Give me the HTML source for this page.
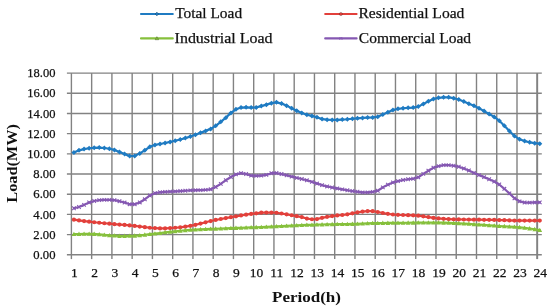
<!DOCTYPE html>
<html><head><meta charset="utf-8"><title>Load chart</title>
<style>html,body{margin:0;padding:0;background:#fff}svg{display:block}</style>
</head><body>
<svg width="550" height="308" viewBox="0 0 550 308">
<rect width="550" height="308" fill="#fff"/>
<g stroke="#828282" stroke-width="1.4" fill="none">
<path d="M66.9 254.80H541.8"/>
<path d="M66.9 234.61H541.8"/>
<path d="M66.9 214.42H541.8"/>
<path d="M66.9 194.23H541.8"/>
<path d="M66.9 174.04H541.8"/>
<path d="M66.9 153.86H541.8"/>
<path d="M66.9 133.67H541.8"/>
<path d="M66.9 113.48H541.8"/>
<path d="M66.9 93.29H541.8"/>
<path d="M66.9 73.10H541.8"/>
<path d="M71.40 73.10V259.1"/>
<path d="M91.65 73.10V259.1"/>
<path d="M111.91 73.10V259.1"/>
<path d="M132.16 73.10V259.1"/>
<path d="M152.42 73.10V259.1"/>
<path d="M172.67 73.10V259.1"/>
<path d="M192.93 73.10V259.1"/>
<path d="M213.18 73.10V259.1"/>
<path d="M233.43 73.10V259.1"/>
<path d="M253.69 73.10V259.1"/>
<path d="M273.94 73.10V259.1"/>
<path d="M294.20 73.10V259.1"/>
<path d="M314.45 73.10V259.1"/>
<path d="M334.71 73.10V259.1"/>
<path d="M354.96 73.10V259.1"/>
<path d="M375.22 73.10V259.1"/>
<path d="M395.47 73.10V259.1"/>
<path d="M415.72 73.10V259.1"/>
<path d="M435.98 73.10V259.1"/>
<path d="M456.23 73.10V259.1"/>
<path d="M476.49 73.10V259.1"/>
<path d="M496.74 73.10V259.1"/>
<path d="M517.00 73.10V259.1"/>
<path d="M537.25 73.10V259.1"/>
</g>
<path d="M537.25 73.10V259.1" stroke="#828282" stroke-width="1.8"/>
<polyline fill="none" stroke="#1f7bc2" stroke-width="2.2" stroke-linejoin="round" stroke-linecap="round" points="73.93,152.44 79.00,150.34 84.06,149.07 89.12,148.25 94.19,147.82 99.25,147.60 104.31,148.01 109.38,148.72 114.44,149.92 119.50,151.95 124.57,154.02 129.63,156.12 134.69,156.02 139.76,153.39 144.82,150.34 149.89,146.75 154.95,144.93 160.01,144.03 165.08,143.03 170.14,141.92 175.20,140.74 180.27,139.49 185.33,138.09 190.39,136.53 195.46,134.79 200.52,132.85 205.59,130.88 210.65,128.88 215.71,125.84 220.78,121.81 225.84,117.66 230.90,112.91 235.97,109.31 241.03,107.54 246.09,107.28 251.16,107.56 256.22,107.40 261.28,106.11 266.35,104.66 271.41,103.18 276.48,102.37 281.54,103.59 286.60,105.63 291.67,108.18 296.73,110.67 301.79,113.04 306.86,114.70 311.92,115.88 316.98,117.33 322.05,119.09 327.11,119.70 332.17,119.91 337.24,119.89 342.30,119.60 347.37,119.24 352.43,118.76 357.49,118.30 362.56,117.88 367.62,117.61 372.68,117.45 377.75,116.80 382.81,114.61 387.87,112.34 392.94,109.98 398.00,108.83 403.06,108.25 408.13,107.85 413.19,107.56 418.26,106.62 423.32,103.90 428.38,101.34 433.45,98.93 438.51,97.85 443.57,97.31 448.64,97.36 453.70,98.20 458.76,99.47 463.83,101.59 468.89,103.69 473.96,105.76 479.02,108.21 484.08,111.09 489.15,113.99 494.21,116.91 499.27,120.74 504.34,125.80 509.40,130.91 514.46,136.09 519.53,139.17 524.59,141.07 529.65,142.30 534.72,143.16 539.78,143.66"/>
<path d="M73.93 149.94L76.43 152.44L73.93 154.94L71.43 152.44ZM79.00 147.84L81.50 150.34L79.00 152.84L76.50 150.34ZM84.06 146.57L86.56 149.07L84.06 151.57L81.56 149.07ZM89.12 145.75L91.62 148.25L89.12 150.75L86.62 148.25ZM94.19 145.32L96.69 147.82L94.19 150.32L91.69 147.82ZM99.25 145.10L101.75 147.60L99.25 150.10L96.75 147.60ZM104.31 145.51L106.81 148.01L104.31 150.51L101.81 148.01ZM109.38 146.22L111.88 148.72L109.38 151.22L106.88 148.72ZM114.44 147.42L116.94 149.92L114.44 152.42L111.94 149.92ZM119.50 149.45L122.00 151.95L119.50 154.45L117.00 151.95ZM124.57 151.52L127.07 154.02L124.57 156.52L122.07 154.02ZM129.63 153.62L132.13 156.12L129.63 158.62L127.13 156.12ZM134.69 153.52L137.19 156.02L134.69 158.52L132.19 156.02ZM139.76 150.89L142.26 153.39L139.76 155.89L137.26 153.39ZM144.82 147.84L147.32 150.34L144.82 152.84L142.32 150.34ZM149.89 144.25L152.39 146.75L149.89 149.25L147.39 146.75ZM154.95 142.43L157.45 144.93L154.95 147.43L152.45 144.93ZM160.01 141.53L162.51 144.03L160.01 146.53L157.51 144.03ZM165.08 140.53L167.58 143.03L165.08 145.53L162.58 143.03ZM170.14 139.42L172.64 141.92L170.14 144.42L167.64 141.92ZM175.20 138.24L177.70 140.74L175.20 143.24L172.70 140.74ZM180.27 136.99L182.77 139.49L180.27 141.99L177.77 139.49ZM185.33 135.59L187.83 138.09L185.33 140.59L182.83 138.09ZM190.39 134.03L192.89 136.53L190.39 139.03L187.89 136.53ZM195.46 132.29L197.96 134.79L195.46 137.29L192.96 134.79ZM200.52 130.35L203.02 132.85L200.52 135.35L198.02 132.85ZM205.59 128.38L208.09 130.88L205.59 133.38L203.09 130.88ZM210.65 126.38L213.15 128.88L210.65 131.38L208.15 128.88ZM215.71 123.34L218.21 125.84L215.71 128.34L213.21 125.84ZM220.78 119.31L223.28 121.81L220.78 124.31L218.28 121.81ZM225.84 115.16L228.34 117.66L225.84 120.16L223.34 117.66ZM230.90 110.41L233.40 112.91L230.90 115.41L228.40 112.91ZM235.97 106.81L238.47 109.31L235.97 111.81L233.47 109.31ZM241.03 105.04L243.53 107.54L241.03 110.04L238.53 107.54ZM246.09 104.78L248.59 107.28L246.09 109.78L243.59 107.28ZM251.16 105.06L253.66 107.56L251.16 110.06L248.66 107.56ZM256.22 104.90L258.72 107.40L256.22 109.90L253.72 107.40ZM261.28 103.61L263.78 106.11L261.28 108.61L258.78 106.11ZM266.35 102.16L268.85 104.66L266.35 107.16L263.85 104.66ZM271.41 100.68L273.91 103.18L271.41 105.68L268.91 103.18ZM276.48 99.87L278.98 102.37L276.48 104.87L273.98 102.37ZM281.54 101.09L284.04 103.59L281.54 106.09L279.04 103.59ZM286.60 103.13L289.10 105.63L286.60 108.13L284.10 105.63ZM291.67 105.68L294.17 108.18L291.67 110.68L289.17 108.18ZM296.73 108.17L299.23 110.67L296.73 113.17L294.23 110.67ZM301.79 110.54L304.29 113.04L301.79 115.54L299.29 113.04ZM306.86 112.20L309.36 114.70L306.86 117.20L304.36 114.70ZM311.92 113.38L314.42 115.88L311.92 118.38L309.42 115.88ZM316.98 114.83L319.48 117.33L316.98 119.83L314.48 117.33ZM322.05 116.59L324.55 119.09L322.05 121.59L319.55 119.09ZM327.11 117.20L329.61 119.70L327.11 122.20L324.61 119.70ZM332.17 117.41L334.67 119.91L332.17 122.41L329.67 119.91ZM337.24 117.39L339.74 119.89L337.24 122.39L334.74 119.89ZM342.30 117.10L344.80 119.60L342.30 122.10L339.80 119.60ZM347.37 116.74L349.87 119.24L347.37 121.74L344.87 119.24ZM352.43 116.26L354.93 118.76L352.43 121.26L349.93 118.76ZM357.49 115.80L359.99 118.30L357.49 120.80L354.99 118.30ZM362.56 115.38L365.06 117.88L362.56 120.38L360.06 117.88ZM367.62 115.11L370.12 117.61L367.62 120.11L365.12 117.61ZM372.68 114.95L375.18 117.45L372.68 119.95L370.18 117.45ZM377.75 114.30L380.25 116.80L377.75 119.30L375.25 116.80ZM382.81 112.11L385.31 114.61L382.81 117.11L380.31 114.61ZM387.87 109.84L390.37 112.34L387.87 114.84L385.37 112.34ZM392.94 107.48L395.44 109.98L392.94 112.48L390.44 109.98ZM398.00 106.33L400.50 108.83L398.00 111.33L395.50 108.83ZM403.06 105.75L405.56 108.25L403.06 110.75L400.56 108.25ZM408.13 105.35L410.63 107.85L408.13 110.35L405.63 107.85ZM413.19 105.06L415.69 107.56L413.19 110.06L410.69 107.56ZM418.26 104.12L420.76 106.62L418.26 109.12L415.76 106.62ZM423.32 101.40L425.82 103.90L423.32 106.40L420.82 103.90ZM428.38 98.84L430.88 101.34L428.38 103.84L425.88 101.34ZM433.45 96.43L435.95 98.93L433.45 101.43L430.95 98.93ZM438.51 95.35L441.01 97.85L438.51 100.35L436.01 97.85ZM443.57 94.81L446.07 97.31L443.57 99.81L441.07 97.31ZM448.64 94.86L451.14 97.36L448.64 99.86L446.14 97.36ZM453.70 95.70L456.20 98.20L453.70 100.70L451.20 98.20ZM458.76 96.97L461.26 99.47L458.76 101.97L456.26 99.47ZM463.83 99.09L466.33 101.59L463.83 104.09L461.33 101.59ZM468.89 101.19L471.39 103.69L468.89 106.19L466.39 103.69ZM473.96 103.26L476.46 105.76L473.96 108.26L471.46 105.76ZM479.02 105.71L481.52 108.21L479.02 110.71L476.52 108.21ZM484.08 108.59L486.58 111.09L484.08 113.59L481.58 111.09ZM489.15 111.49L491.65 113.99L489.15 116.49L486.65 113.99ZM494.21 114.41L496.71 116.91L494.21 119.41L491.71 116.91ZM499.27 118.24L501.77 120.74L499.27 123.24L496.77 120.74ZM504.34 123.30L506.84 125.80L504.34 128.30L501.84 125.80ZM509.40 128.41L511.90 130.91L509.40 133.41L506.90 130.91ZM514.46 133.59L516.96 136.09L514.46 138.59L511.96 136.09ZM519.53 136.67L522.03 139.17L519.53 141.67L517.03 139.17ZM524.59 138.57L527.09 141.07L524.59 143.57L522.09 141.07ZM529.65 139.80L532.15 142.30L529.65 144.80L527.15 142.30ZM534.72 140.66L537.22 143.16L534.72 145.66L532.22 143.16ZM539.78 141.16L542.28 143.66L539.78 146.16L537.28 143.66Z" fill="#1f7bc2"/>
<polyline fill="none" stroke="#e2403b" stroke-width="2.2" stroke-linejoin="round" stroke-linecap="round" points="73.93,219.67 79.00,220.40 84.06,221.08 89.12,221.71 94.19,222.26 99.25,222.77 104.31,223.24 109.38,223.69 114.44,224.13 119.50,224.55 124.57,224.95 129.63,225.39 134.69,225.90 139.76,226.53 144.82,227.19 149.89,227.75 154.95,228.12 160.01,228.41 165.08,228.41 170.14,228.12 175.20,227.77 180.27,227.32 185.33,226.70 190.39,225.81 195.46,224.80 200.52,223.58 205.59,222.28 210.65,221.04 215.71,219.96 220.78,218.98 225.84,218.05 230.90,217.17 235.97,216.32 241.03,215.47 246.09,214.66 251.16,213.93 256.22,213.29 261.28,212.71 266.35,212.61 271.41,212.61 276.48,212.74 281.54,213.50 286.60,214.33 291.67,215.26 296.73,216.18 301.79,217.10 306.86,218.54 311.92,219.24 316.98,219.03 322.05,217.81 327.11,216.83 332.17,216.06 337.24,215.47 342.30,215.01 347.37,214.32 352.43,213.28 357.49,212.37 362.56,211.57 367.62,211.09 372.68,211.20 377.75,212.01 382.81,212.98 387.87,213.80 392.94,214.51 398.00,214.85 403.06,215.02 408.13,215.14 413.19,215.31 418.26,215.64 423.32,216.29 428.38,217.05 433.45,217.95 438.51,218.47 443.57,218.82 448.64,219.10 453.70,219.30 458.76,219.42 463.83,219.51 468.89,219.57 473.96,219.64 479.02,219.71 484.08,219.78 489.15,219.85 494.21,219.93 499.27,220.04 504.34,220.22 509.40,220.42 514.46,220.56 519.53,220.58 524.59,220.58 529.65,220.58 534.72,220.58 539.78,220.58"/>
<path d="M71.83 219.67a2.1 2.1 0 1 0 4.2 0a2.1 2.1 0 1 0 -4.2 0ZM76.90 220.40a2.1 2.1 0 1 0 4.2 0a2.1 2.1 0 1 0 -4.2 0ZM81.96 221.08a2.1 2.1 0 1 0 4.2 0a2.1 2.1 0 1 0 -4.2 0ZM87.02 221.71a2.1 2.1 0 1 0 4.2 0a2.1 2.1 0 1 0 -4.2 0ZM92.09 222.26a2.1 2.1 0 1 0 4.2 0a2.1 2.1 0 1 0 -4.2 0ZM97.15 222.77a2.1 2.1 0 1 0 4.2 0a2.1 2.1 0 1 0 -4.2 0ZM102.21 223.24a2.1 2.1 0 1 0 4.2 0a2.1 2.1 0 1 0 -4.2 0ZM107.28 223.69a2.1 2.1 0 1 0 4.2 0a2.1 2.1 0 1 0 -4.2 0ZM112.34 224.13a2.1 2.1 0 1 0 4.2 0a2.1 2.1 0 1 0 -4.2 0ZM117.40 224.55a2.1 2.1 0 1 0 4.2 0a2.1 2.1 0 1 0 -4.2 0ZM122.47 224.95a2.1 2.1 0 1 0 4.2 0a2.1 2.1 0 1 0 -4.2 0ZM127.53 225.39a2.1 2.1 0 1 0 4.2 0a2.1 2.1 0 1 0 -4.2 0ZM132.59 225.90a2.1 2.1 0 1 0 4.2 0a2.1 2.1 0 1 0 -4.2 0ZM137.66 226.53a2.1 2.1 0 1 0 4.2 0a2.1 2.1 0 1 0 -4.2 0ZM142.72 227.19a2.1 2.1 0 1 0 4.2 0a2.1 2.1 0 1 0 -4.2 0ZM147.79 227.75a2.1 2.1 0 1 0 4.2 0a2.1 2.1 0 1 0 -4.2 0ZM152.85 228.12a2.1 2.1 0 1 0 4.2 0a2.1 2.1 0 1 0 -4.2 0ZM157.91 228.41a2.1 2.1 0 1 0 4.2 0a2.1 2.1 0 1 0 -4.2 0ZM162.98 228.41a2.1 2.1 0 1 0 4.2 0a2.1 2.1 0 1 0 -4.2 0ZM168.04 228.12a2.1 2.1 0 1 0 4.2 0a2.1 2.1 0 1 0 -4.2 0ZM173.10 227.77a2.1 2.1 0 1 0 4.2 0a2.1 2.1 0 1 0 -4.2 0ZM178.17 227.32a2.1 2.1 0 1 0 4.2 0a2.1 2.1 0 1 0 -4.2 0ZM183.23 226.70a2.1 2.1 0 1 0 4.2 0a2.1 2.1 0 1 0 -4.2 0ZM188.29 225.81a2.1 2.1 0 1 0 4.2 0a2.1 2.1 0 1 0 -4.2 0ZM193.36 224.80a2.1 2.1 0 1 0 4.2 0a2.1 2.1 0 1 0 -4.2 0ZM198.42 223.58a2.1 2.1 0 1 0 4.2 0a2.1 2.1 0 1 0 -4.2 0ZM203.49 222.28a2.1 2.1 0 1 0 4.2 0a2.1 2.1 0 1 0 -4.2 0ZM208.55 221.04a2.1 2.1 0 1 0 4.2 0a2.1 2.1 0 1 0 -4.2 0ZM213.61 219.96a2.1 2.1 0 1 0 4.2 0a2.1 2.1 0 1 0 -4.2 0ZM218.68 218.98a2.1 2.1 0 1 0 4.2 0a2.1 2.1 0 1 0 -4.2 0ZM223.74 218.05a2.1 2.1 0 1 0 4.2 0a2.1 2.1 0 1 0 -4.2 0ZM228.80 217.17a2.1 2.1 0 1 0 4.2 0a2.1 2.1 0 1 0 -4.2 0ZM233.87 216.32a2.1 2.1 0 1 0 4.2 0a2.1 2.1 0 1 0 -4.2 0ZM238.93 215.47a2.1 2.1 0 1 0 4.2 0a2.1 2.1 0 1 0 -4.2 0ZM243.99 214.66a2.1 2.1 0 1 0 4.2 0a2.1 2.1 0 1 0 -4.2 0ZM249.06 213.93a2.1 2.1 0 1 0 4.2 0a2.1 2.1 0 1 0 -4.2 0ZM254.12 213.29a2.1 2.1 0 1 0 4.2 0a2.1 2.1 0 1 0 -4.2 0ZM259.18 212.71a2.1 2.1 0 1 0 4.2 0a2.1 2.1 0 1 0 -4.2 0ZM264.25 212.61a2.1 2.1 0 1 0 4.2 0a2.1 2.1 0 1 0 -4.2 0ZM269.31 212.61a2.1 2.1 0 1 0 4.2 0a2.1 2.1 0 1 0 -4.2 0ZM274.38 212.74a2.1 2.1 0 1 0 4.2 0a2.1 2.1 0 1 0 -4.2 0ZM279.44 213.50a2.1 2.1 0 1 0 4.2 0a2.1 2.1 0 1 0 -4.2 0ZM284.50 214.33a2.1 2.1 0 1 0 4.2 0a2.1 2.1 0 1 0 -4.2 0ZM289.57 215.26a2.1 2.1 0 1 0 4.2 0a2.1 2.1 0 1 0 -4.2 0ZM294.63 216.18a2.1 2.1 0 1 0 4.2 0a2.1 2.1 0 1 0 -4.2 0ZM299.69 217.10a2.1 2.1 0 1 0 4.2 0a2.1 2.1 0 1 0 -4.2 0ZM304.76 218.54a2.1 2.1 0 1 0 4.2 0a2.1 2.1 0 1 0 -4.2 0ZM309.82 219.24a2.1 2.1 0 1 0 4.2 0a2.1 2.1 0 1 0 -4.2 0ZM314.88 219.03a2.1 2.1 0 1 0 4.2 0a2.1 2.1 0 1 0 -4.2 0ZM319.95 217.81a2.1 2.1 0 1 0 4.2 0a2.1 2.1 0 1 0 -4.2 0ZM325.01 216.83a2.1 2.1 0 1 0 4.2 0a2.1 2.1 0 1 0 -4.2 0ZM330.07 216.06a2.1 2.1 0 1 0 4.2 0a2.1 2.1 0 1 0 -4.2 0ZM335.14 215.47a2.1 2.1 0 1 0 4.2 0a2.1 2.1 0 1 0 -4.2 0ZM340.20 215.01a2.1 2.1 0 1 0 4.2 0a2.1 2.1 0 1 0 -4.2 0ZM345.27 214.32a2.1 2.1 0 1 0 4.2 0a2.1 2.1 0 1 0 -4.2 0ZM350.33 213.28a2.1 2.1 0 1 0 4.2 0a2.1 2.1 0 1 0 -4.2 0ZM355.39 212.37a2.1 2.1 0 1 0 4.2 0a2.1 2.1 0 1 0 -4.2 0ZM360.46 211.57a2.1 2.1 0 1 0 4.2 0a2.1 2.1 0 1 0 -4.2 0ZM365.52 211.09a2.1 2.1 0 1 0 4.2 0a2.1 2.1 0 1 0 -4.2 0ZM370.58 211.20a2.1 2.1 0 1 0 4.2 0a2.1 2.1 0 1 0 -4.2 0ZM375.65 212.01a2.1 2.1 0 1 0 4.2 0a2.1 2.1 0 1 0 -4.2 0ZM380.71 212.98a2.1 2.1 0 1 0 4.2 0a2.1 2.1 0 1 0 -4.2 0ZM385.77 213.80a2.1 2.1 0 1 0 4.2 0a2.1 2.1 0 1 0 -4.2 0ZM390.84 214.51a2.1 2.1 0 1 0 4.2 0a2.1 2.1 0 1 0 -4.2 0ZM395.90 214.85a2.1 2.1 0 1 0 4.2 0a2.1 2.1 0 1 0 -4.2 0ZM400.96 215.02a2.1 2.1 0 1 0 4.2 0a2.1 2.1 0 1 0 -4.2 0ZM406.03 215.14a2.1 2.1 0 1 0 4.2 0a2.1 2.1 0 1 0 -4.2 0ZM411.09 215.31a2.1 2.1 0 1 0 4.2 0a2.1 2.1 0 1 0 -4.2 0ZM416.16 215.64a2.1 2.1 0 1 0 4.2 0a2.1 2.1 0 1 0 -4.2 0ZM421.22 216.29a2.1 2.1 0 1 0 4.2 0a2.1 2.1 0 1 0 -4.2 0ZM426.28 217.05a2.1 2.1 0 1 0 4.2 0a2.1 2.1 0 1 0 -4.2 0ZM431.35 217.95a2.1 2.1 0 1 0 4.2 0a2.1 2.1 0 1 0 -4.2 0ZM436.41 218.47a2.1 2.1 0 1 0 4.2 0a2.1 2.1 0 1 0 -4.2 0ZM441.47 218.82a2.1 2.1 0 1 0 4.2 0a2.1 2.1 0 1 0 -4.2 0ZM446.54 219.10a2.1 2.1 0 1 0 4.2 0a2.1 2.1 0 1 0 -4.2 0ZM451.60 219.30a2.1 2.1 0 1 0 4.2 0a2.1 2.1 0 1 0 -4.2 0ZM456.66 219.42a2.1 2.1 0 1 0 4.2 0a2.1 2.1 0 1 0 -4.2 0ZM461.73 219.51a2.1 2.1 0 1 0 4.2 0a2.1 2.1 0 1 0 -4.2 0ZM466.79 219.57a2.1 2.1 0 1 0 4.2 0a2.1 2.1 0 1 0 -4.2 0ZM471.86 219.64a2.1 2.1 0 1 0 4.2 0a2.1 2.1 0 1 0 -4.2 0ZM476.92 219.71a2.1 2.1 0 1 0 4.2 0a2.1 2.1 0 1 0 -4.2 0ZM481.98 219.78a2.1 2.1 0 1 0 4.2 0a2.1 2.1 0 1 0 -4.2 0ZM487.05 219.85a2.1 2.1 0 1 0 4.2 0a2.1 2.1 0 1 0 -4.2 0ZM492.11 219.93a2.1 2.1 0 1 0 4.2 0a2.1 2.1 0 1 0 -4.2 0ZM497.17 220.04a2.1 2.1 0 1 0 4.2 0a2.1 2.1 0 1 0 -4.2 0ZM502.24 220.22a2.1 2.1 0 1 0 4.2 0a2.1 2.1 0 1 0 -4.2 0ZM507.30 220.42a2.1 2.1 0 1 0 4.2 0a2.1 2.1 0 1 0 -4.2 0ZM512.36 220.56a2.1 2.1 0 1 0 4.2 0a2.1 2.1 0 1 0 -4.2 0ZM517.43 220.58a2.1 2.1 0 1 0 4.2 0a2.1 2.1 0 1 0 -4.2 0ZM522.49 220.58a2.1 2.1 0 1 0 4.2 0a2.1 2.1 0 1 0 -4.2 0ZM527.55 220.58a2.1 2.1 0 1 0 4.2 0a2.1 2.1 0 1 0 -4.2 0ZM532.62 220.58a2.1 2.1 0 1 0 4.2 0a2.1 2.1 0 1 0 -4.2 0ZM537.68 220.58a2.1 2.1 0 1 0 4.2 0a2.1 2.1 0 1 0 -4.2 0Z" fill="#e2403b"/>
<polyline fill="none" stroke="#86c03c" stroke-width="2.2" stroke-linejoin="round" stroke-linecap="round" points="73.93,234.11 79.00,233.98 84.06,233.92 89.12,233.91 94.19,233.96 99.25,234.31 104.31,234.83 109.38,235.33 114.44,235.68 119.50,235.97 124.57,236.01 129.63,235.90 134.69,235.71 139.76,235.31 144.82,234.76 149.89,234.18 154.95,233.63 160.01,233.05 165.08,232.44 170.14,231.85 175.20,231.31 180.27,230.77 185.33,230.25 190.39,229.83 195.46,229.53 200.52,229.31 205.59,229.13 210.65,228.95 215.71,228.76 220.78,228.55 225.84,228.34 230.90,228.15 235.97,227.96 241.03,227.78 246.09,227.61 251.16,227.44 256.22,227.25 261.28,227.06 266.35,226.86 271.41,226.65 276.48,226.41 281.54,226.12 286.60,225.82 291.67,225.54 296.73,225.32 301.79,225.13 306.86,224.95 311.92,224.79 316.98,224.65 322.05,224.51 327.11,224.38 332.17,224.26 337.24,224.17 342.30,224.10 347.37,224.04 352.43,223.96 357.49,223.84 362.56,223.62 367.62,223.37 372.68,223.16 377.75,223.07 382.81,223.01 387.87,222.97 392.94,222.93 398.00,222.88 403.06,222.82 408.13,222.77 413.19,222.72 418.26,222.68 423.32,222.65 428.38,222.62 433.45,222.60 438.51,222.61 443.57,222.72 448.64,222.89 453.70,223.10 458.76,223.32 463.83,223.59 468.89,223.91 473.96,224.25 479.02,224.58 484.08,224.94 489.15,225.31 494.21,225.66 499.27,225.98 504.34,226.26 509.40,226.53 514.46,226.85 519.53,227.27 524.59,227.83 529.65,228.48 534.72,229.24 539.78,230.17"/>
<path d="M73.93 231.71L76.33 236.03L71.53 236.03ZM79.00 231.58L81.40 235.90L76.60 235.90ZM84.06 231.52L86.46 235.84L81.66 235.84ZM89.12 231.51L91.52 235.83L86.72 235.83ZM94.19 231.56L96.59 235.88L91.79 235.88ZM99.25 231.91L101.65 236.23L96.85 236.23ZM104.31 232.43L106.71 236.75L101.91 236.75ZM109.38 232.93L111.78 237.25L106.98 237.25ZM114.44 233.28L116.84 237.60L112.04 237.60ZM119.50 233.57L121.90 237.89L117.10 237.89ZM124.57 233.61L126.97 237.93L122.17 237.93ZM129.63 233.50L132.03 237.82L127.23 237.82ZM134.69 233.31L137.09 237.63L132.29 237.63ZM139.76 232.91L142.16 237.23L137.36 237.23ZM144.82 232.36L147.22 236.68L142.42 236.68ZM149.89 231.78L152.29 236.10L147.49 236.10ZM154.95 231.23L157.35 235.55L152.55 235.55ZM160.01 230.65L162.41 234.97L157.61 234.97ZM165.08 230.04L167.48 234.36L162.68 234.36ZM170.14 229.45L172.54 233.77L167.74 233.77ZM175.20 228.91L177.60 233.23L172.80 233.23ZM180.27 228.37L182.67 232.69L177.87 232.69ZM185.33 227.85L187.73 232.17L182.93 232.17ZM190.39 227.43L192.79 231.75L187.99 231.75ZM195.46 227.13L197.86 231.45L193.06 231.45ZM200.52 226.91L202.92 231.23L198.12 231.23ZM205.59 226.73L207.99 231.05L203.19 231.05ZM210.65 226.55L213.05 230.87L208.25 230.87ZM215.71 226.36L218.11 230.68L213.31 230.68ZM220.78 226.15L223.18 230.47L218.38 230.47ZM225.84 225.94L228.24 230.26L223.44 230.26ZM230.90 225.75L233.30 230.07L228.50 230.07ZM235.97 225.56L238.37 229.88L233.57 229.88ZM241.03 225.38L243.43 229.70L238.63 229.70ZM246.09 225.21L248.49 229.53L243.69 229.53ZM251.16 225.04L253.56 229.36L248.76 229.36ZM256.22 224.85L258.62 229.17L253.82 229.17ZM261.28 224.66L263.68 228.98L258.88 228.98ZM266.35 224.46L268.75 228.78L263.95 228.78ZM271.41 224.25L273.81 228.57L269.01 228.57ZM276.48 224.01L278.88 228.33L274.08 228.33ZM281.54 223.72L283.94 228.04L279.14 228.04ZM286.60 223.42L289.00 227.74L284.20 227.74ZM291.67 223.14L294.07 227.46L289.27 227.46ZM296.73 222.92L299.13 227.24L294.33 227.24ZM301.79 222.73L304.19 227.05L299.39 227.05ZM306.86 222.55L309.26 226.87L304.46 226.87ZM311.92 222.39L314.32 226.71L309.52 226.71ZM316.98 222.25L319.38 226.57L314.58 226.57ZM322.05 222.11L324.45 226.43L319.65 226.43ZM327.11 221.98L329.51 226.30L324.71 226.30ZM332.17 221.86L334.57 226.18L329.77 226.18ZM337.24 221.77L339.64 226.09L334.84 226.09ZM342.30 221.70L344.70 226.02L339.90 226.02ZM347.37 221.64L349.77 225.96L344.97 225.96ZM352.43 221.56L354.83 225.88L350.03 225.88ZM357.49 221.44L359.89 225.76L355.09 225.76ZM362.56 221.22L364.96 225.54L360.16 225.54ZM367.62 220.97L370.02 225.29L365.22 225.29ZM372.68 220.76L375.08 225.08L370.28 225.08ZM377.75 220.67L380.15 224.99L375.35 224.99ZM382.81 220.61L385.21 224.93L380.41 224.93ZM387.87 220.57L390.27 224.89L385.47 224.89ZM392.94 220.53L395.34 224.85L390.54 224.85ZM398.00 220.48L400.40 224.80L395.60 224.80ZM403.06 220.42L405.46 224.74L400.66 224.74ZM408.13 220.37L410.53 224.69L405.73 224.69ZM413.19 220.32L415.59 224.64L410.79 224.64ZM418.26 220.28L420.66 224.60L415.86 224.60ZM423.32 220.25L425.72 224.57L420.92 224.57ZM428.38 220.22L430.78 224.54L425.98 224.54ZM433.45 220.20L435.85 224.52L431.05 224.52ZM438.51 220.21L440.91 224.53L436.11 224.53ZM443.57 220.32L445.97 224.64L441.17 224.64ZM448.64 220.49L451.04 224.81L446.24 224.81ZM453.70 220.70L456.10 225.02L451.30 225.02ZM458.76 220.92L461.16 225.24L456.36 225.24ZM463.83 221.19L466.23 225.51L461.43 225.51ZM468.89 221.51L471.29 225.83L466.49 225.83ZM473.96 221.85L476.36 226.17L471.56 226.17ZM479.02 222.18L481.42 226.50L476.62 226.50ZM484.08 222.54L486.48 226.86L481.68 226.86ZM489.15 222.91L491.55 227.23L486.75 227.23ZM494.21 223.26L496.61 227.58L491.81 227.58ZM499.27 223.58L501.67 227.90L496.87 227.90ZM504.34 223.86L506.74 228.18L501.94 228.18ZM509.40 224.13L511.80 228.45L507.00 228.45ZM514.46 224.45L516.86 228.77L512.06 228.77ZM519.53 224.87L521.93 229.19L517.13 229.19ZM524.59 225.43L526.99 229.75L522.19 229.75ZM529.65 226.08L532.05 230.40L527.25 230.40ZM534.72 226.84L537.12 231.16L532.32 231.16ZM539.78 227.77L542.18 232.09L537.38 232.09Z" fill="#86c03c"/>
<polyline fill="none" stroke="#8558b2" stroke-width="2.2" stroke-linejoin="round" stroke-linecap="round" points="73.93,208.26 79.00,207.03 84.06,204.88 89.12,202.45 94.19,200.99 99.25,200.12 104.31,199.89 109.38,199.89 114.44,200.08 119.50,201.19 124.57,202.55 129.63,204.21 134.69,204.21 139.76,202.45 144.82,199.30 149.89,195.48 154.95,193.17 160.01,192.27 165.08,191.86 170.14,191.63 175.20,191.36 180.27,191.06 185.33,190.74 190.39,190.42 195.46,190.21 200.52,190.08 205.59,189.90 210.65,189.31 215.71,187.00 220.78,183.87 225.84,180.23 230.90,177.01 235.97,174.42 241.03,173.14 246.09,174.04 251.16,175.64 256.22,175.92 261.28,175.66 266.35,174.93 271.41,173.20 276.48,173.02 281.54,174.06 286.60,175.25 291.67,176.62 296.73,177.86 301.79,178.97 306.86,180.31 311.92,181.92 316.98,183.54 322.05,185.16 327.11,186.45 332.17,187.49 337.24,188.45 342.30,189.36 347.37,190.23 352.43,191.06 357.49,191.74 362.56,192.32 367.62,192.36 372.68,191.93 377.75,190.74 382.81,187.36 387.87,184.66 392.94,182.53 398.00,181.07 403.06,180.02 408.13,179.26 413.19,178.72 418.26,177.30 423.32,173.88 428.38,170.70 433.45,167.74 438.51,166.11 443.57,165.12 448.64,165.07 453.70,165.73 458.76,166.74 463.83,168.44 468.89,170.46 473.96,172.88 479.02,175.10 484.08,177.13 489.15,179.25 494.21,181.47 499.27,184.53 504.34,188.79 509.40,193.38 514.46,198.32 519.53,201.32 524.59,202.53 529.65,202.67 534.72,202.46 539.78,202.41"/>
<path d="M72.13 206.46L75.73 210.06M75.73 206.46L72.13 210.06M77.20 205.23L80.80 208.83M80.80 205.23L77.20 208.83M82.26 203.08L85.86 206.68M85.86 203.08L82.26 206.68M87.32 200.65L90.92 204.25M90.92 200.65L87.32 204.25M92.39 199.19L95.99 202.79M95.99 199.19L92.39 202.79M97.45 198.32L101.05 201.92M101.05 198.32L97.45 201.92M102.51 198.09L106.11 201.69M106.11 198.09L102.51 201.69M107.58 198.09L111.18 201.69M111.18 198.09L107.58 201.69M112.64 198.28L116.24 201.88M116.24 198.28L112.64 201.88M117.70 199.39L121.30 202.99M121.30 199.39L117.70 202.99M122.77 200.75L126.37 204.35M126.37 200.75L122.77 204.35M127.83 202.41L131.43 206.01M131.43 202.41L127.83 206.01M132.89 202.41L136.49 206.01M136.49 202.41L132.89 206.01M137.96 200.65L141.56 204.25M141.56 200.65L137.96 204.25M143.02 197.50L146.62 201.10M146.62 197.50L143.02 201.10M148.09 193.68L151.69 197.28M151.69 193.68L148.09 197.28M153.15 191.37L156.75 194.97M156.75 191.37L153.15 194.97M158.21 190.47L161.81 194.07M161.81 190.47L158.21 194.07M163.28 190.06L166.88 193.66M166.88 190.06L163.28 193.66M168.34 189.83L171.94 193.43M171.94 189.83L168.34 193.43M173.40 189.56L177.00 193.16M177.00 189.56L173.40 193.16M178.47 189.26L182.07 192.86M182.07 189.26L178.47 192.86M183.53 188.94L187.13 192.54M187.13 188.94L183.53 192.54M188.59 188.62L192.19 192.22M192.19 188.62L188.59 192.22M193.66 188.41L197.26 192.01M197.26 188.41L193.66 192.01M198.72 188.28L202.32 191.88M202.32 188.28L198.72 191.88M203.79 188.10L207.39 191.70M207.39 188.10L203.79 191.70M208.85 187.51L212.45 191.11M212.45 187.51L208.85 191.11M213.91 185.20L217.51 188.80M217.51 185.20L213.91 188.80M218.98 182.07L222.58 185.67M222.58 182.07L218.98 185.67M224.04 178.43L227.64 182.03M227.64 178.43L224.04 182.03M229.10 175.21L232.70 178.81M232.70 175.21L229.10 178.81M234.17 172.62L237.77 176.22M237.77 172.62L234.17 176.22M239.23 171.34L242.83 174.94M242.83 171.34L239.23 174.94M244.29 172.24L247.89 175.84M247.89 172.24L244.29 175.84M249.36 173.84L252.96 177.44M252.96 173.84L249.36 177.44M254.42 174.12L258.02 177.72M258.02 174.12L254.42 177.72M259.48 173.86L263.08 177.46M263.08 173.86L259.48 177.46M264.55 173.13L268.15 176.73M268.15 173.13L264.55 176.73M269.61 171.40L273.21 175.00M273.21 171.40L269.61 175.00M274.68 171.22L278.28 174.82M278.28 171.22L274.68 174.82M279.74 172.26L283.34 175.86M283.34 172.26L279.74 175.86M284.80 173.45L288.40 177.05M288.40 173.45L284.80 177.05M289.87 174.82L293.47 178.42M293.47 174.82L289.87 178.42M294.93 176.06L298.53 179.66M298.53 176.06L294.93 179.66M299.99 177.17L303.59 180.77M303.59 177.17L299.99 180.77M305.06 178.51L308.66 182.11M308.66 178.51L305.06 182.11M310.12 180.12L313.72 183.72M313.72 180.12L310.12 183.72M315.18 181.74L318.78 185.34M318.78 181.74L315.18 185.34M320.25 183.36L323.85 186.96M323.85 183.36L320.25 186.96M325.31 184.65L328.91 188.25M328.91 184.65L325.31 188.25M330.37 185.69L333.97 189.29M333.97 185.69L330.37 189.29M335.44 186.65L339.04 190.25M339.04 186.65L335.44 190.25M340.50 187.56L344.10 191.16M344.10 187.56L340.50 191.16M345.57 188.43L349.17 192.03M349.17 188.43L345.57 192.03M350.63 189.26L354.23 192.86M354.23 189.26L350.63 192.86M355.69 189.94L359.29 193.54M359.29 189.94L355.69 193.54M360.76 190.52L364.36 194.12M364.36 190.52L360.76 194.12M365.82 190.56L369.42 194.16M369.42 190.56L365.82 194.16M370.88 190.13L374.48 193.73M374.48 190.13L370.88 193.73M375.95 188.94L379.55 192.54M379.55 188.94L375.95 192.54M381.01 185.56L384.61 189.16M384.61 185.56L381.01 189.16M386.07 182.86L389.67 186.46M389.67 182.86L386.07 186.46M391.14 180.73L394.74 184.33M394.74 180.73L391.14 184.33M396.20 179.27L399.80 182.87M399.80 179.27L396.20 182.87M401.26 178.22L404.86 181.82M404.86 178.22L401.26 181.82M406.33 177.46L409.93 181.06M409.93 177.46L406.33 181.06M411.39 176.92L414.99 180.52M414.99 176.92L411.39 180.52M416.46 175.50L420.06 179.10M420.06 175.50L416.46 179.10M421.52 172.08L425.12 175.68M425.12 172.08L421.52 175.68M426.58 168.90L430.18 172.50M430.18 168.90L426.58 172.50M431.65 165.94L435.25 169.54M435.25 165.94L431.65 169.54M436.71 164.31L440.31 167.91M440.31 164.31L436.71 167.91M441.77 163.32L445.37 166.92M445.37 163.32L441.77 166.92M446.84 163.27L450.44 166.87M450.44 163.27L446.84 166.87M451.90 163.93L455.50 167.53M455.50 163.93L451.90 167.53M456.96 164.94L460.56 168.54M460.56 164.94L456.96 168.54M462.03 166.64L465.63 170.24M465.63 166.64L462.03 170.24M467.09 168.66L470.69 172.26M470.69 168.66L467.09 172.26M472.16 171.08L475.76 174.68M475.76 171.08L472.16 174.68M477.22 173.30L480.82 176.90M480.82 173.30L477.22 176.90M482.28 175.33L485.88 178.93M485.88 175.33L482.28 178.93M487.35 177.45L490.95 181.05M490.95 177.45L487.35 181.05M492.41 179.67L496.01 183.27M496.01 179.67L492.41 183.27M497.47 182.73L501.07 186.33M501.07 182.73L497.47 186.33M502.54 186.99L506.14 190.59M506.14 186.99L502.54 190.59M507.60 191.58L511.20 195.18M511.20 191.58L507.60 195.18M512.66 196.52L516.26 200.12M516.26 196.52L512.66 200.12M517.73 199.52L521.33 203.12M521.33 199.52L517.73 203.12M522.79 200.73L526.39 204.33M526.39 200.73L522.79 204.33M527.85 200.87L531.45 204.47M531.45 200.87L527.85 204.47M532.92 200.66L536.52 204.26M536.52 200.66L532.92 204.26M537.98 200.61L541.58 204.21M541.58 200.61L537.98 204.21" stroke="#8558b2" stroke-width="1.1" fill="none"/>
<g font-family="'Liberation Serif', serif" fill="#111" stroke="#111" stroke-width="0.25">
<path d="M141 14.0H172.8" stroke="#1f7bc2" stroke-width="2.1" stroke-linecap="round"/>
<path d="M156.90 12.12L158.78 14.00L156.90 15.88L155.03 14.00Z" fill="#1f7bc2"/>
<text x="175.2" y="18.2" font-size="15" textLength="66.9" lengthAdjust="spacingAndGlyphs">Total Load</text>
<path d="M141 38.4H172.8" stroke="#86c03c" stroke-width="2.1" stroke-linecap="round"/>
<path d="M156.90 36.60L158.70 39.84L155.10 39.84Z" fill="#86c03c"/>
<text x="174.6" y="42.7" font-size="15" textLength="97.9" lengthAdjust="spacingAndGlyphs">Industrial Load</text>
<path d="M325.2 14.0H356.6" stroke="#e2403b" stroke-width="2.1" stroke-linecap="round"/>
<path d="M339.32 14.00a1.5750000000000002 1.5750000000000002 0 1 0 3.1500000000000004 0a1.5750000000000002 1.5750000000000002 0 1 0 -3.1500000000000004 0Z" fill="#e2403b"/>
<text x="358.4" y="18.3" font-size="15" textLength="106" lengthAdjust="spacingAndGlyphs">Residential Load</text>
<path d="M325.2 38.4H356.6" stroke="#8558b2" stroke-width="2.1" stroke-linecap="round"/>
<path d="M339.55 37.05L342.25 39.75M342.25 37.05L339.55 39.75" stroke="#8558b2" stroke-width="1" fill="none"/>
<text x="358.8" y="42.8" font-size="15" textLength="112.3" lengthAdjust="spacingAndGlyphs">Commercial Load</text>
<text x="55.5" y="258.95" font-size="13.5" text-anchor="end" textLength="22.2" lengthAdjust="spacingAndGlyphs">0.00</text>
<text x="55.5" y="238.76" font-size="13.5" text-anchor="end" textLength="22.2" lengthAdjust="spacingAndGlyphs">2.00</text>
<text x="55.5" y="218.57" font-size="13.5" text-anchor="end" textLength="22.2" lengthAdjust="spacingAndGlyphs">4.00</text>
<text x="55.5" y="198.38" font-size="13.5" text-anchor="end" textLength="22.2" lengthAdjust="spacingAndGlyphs">6.00</text>
<text x="55.5" y="178.19" font-size="13.5" text-anchor="end" textLength="22.2" lengthAdjust="spacingAndGlyphs">8.00</text>
<text x="55.5" y="158.01" font-size="13.5" text-anchor="end" textLength="28.2" lengthAdjust="spacingAndGlyphs">10.00</text>
<text x="55.5" y="137.82" font-size="13.5" text-anchor="end" textLength="28.2" lengthAdjust="spacingAndGlyphs">12.00</text>
<text x="55.5" y="117.63" font-size="13.5" text-anchor="end" textLength="28.2" lengthAdjust="spacingAndGlyphs">14.00</text>
<text x="55.5" y="97.44" font-size="13.5" text-anchor="end" textLength="28.2" lengthAdjust="spacingAndGlyphs">16.00</text>
<text x="55.5" y="77.25" font-size="13.5" text-anchor="end" textLength="28.2" lengthAdjust="spacingAndGlyphs">18.00</text>
<text x="74.30" y="276.9" font-size="13.5" text-anchor="middle">1</text>
<text x="94.55" y="276.9" font-size="13.5" text-anchor="middle">2</text>
<text x="114.81" y="276.9" font-size="13.5" text-anchor="middle">3</text>
<text x="135.06" y="276.9" font-size="13.5" text-anchor="middle">4</text>
<text x="155.32" y="276.9" font-size="13.5" text-anchor="middle">5</text>
<text x="175.57" y="276.9" font-size="13.5" text-anchor="middle">6</text>
<text x="195.83" y="276.9" font-size="13.5" text-anchor="middle">7</text>
<text x="216.08" y="276.9" font-size="13.5" text-anchor="middle">8</text>
<text x="236.33" y="276.9" font-size="13.5" text-anchor="middle">9</text>
<text x="256.59" y="276.9" font-size="13.5" text-anchor="middle">10</text>
<text x="276.84" y="276.9" font-size="13.5" text-anchor="middle">11</text>
<text x="297.10" y="276.9" font-size="13.5" text-anchor="middle">12</text>
<text x="317.35" y="276.9" font-size="13.5" text-anchor="middle">13</text>
<text x="337.61" y="276.9" font-size="13.5" text-anchor="middle">14</text>
<text x="357.86" y="276.9" font-size="13.5" text-anchor="middle">15</text>
<text x="378.12" y="276.9" font-size="13.5" text-anchor="middle">16</text>
<text x="398.37" y="276.9" font-size="13.5" text-anchor="middle">17</text>
<text x="418.62" y="276.9" font-size="13.5" text-anchor="middle">18</text>
<text x="438.88" y="276.9" font-size="13.5" text-anchor="middle">19</text>
<text x="459.13" y="276.9" font-size="13.5" text-anchor="middle">20</text>
<text x="479.39" y="276.9" font-size="13.5" text-anchor="middle">21</text>
<text x="499.64" y="276.9" font-size="13.5" text-anchor="middle">22</text>
<text x="519.90" y="276.9" font-size="13.5" text-anchor="middle">23</text>
<text x="540.15" y="276.9" font-size="13.5" text-anchor="middle">24</text>
<text x="306.5" y="301.6" font-size="14.8" stroke="none" font-weight="bold" text-anchor="middle" textLength="69" lengthAdjust="spacingAndGlyphs">Period(h)</text>
<text transform="translate(17.0 163.4) rotate(-90)" font-size="14.8" stroke="none" font-weight="bold" text-anchor="middle" textLength="78.5" lengthAdjust="spacingAndGlyphs">Load(MW)</text>
</g>
</svg>
</body></html>
